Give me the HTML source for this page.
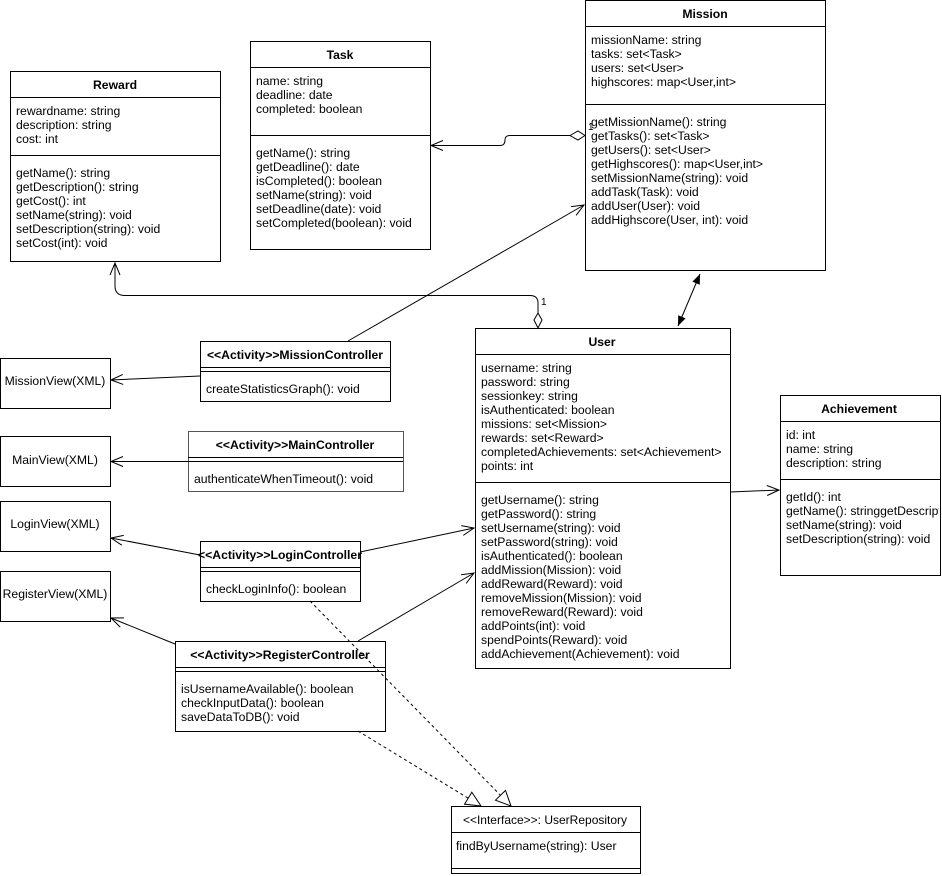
<!DOCTYPE html>
<html><head><meta charset="utf-8"><style>
html,body{margin:0;padding:0;background:#fff;}
svg{display:block;font-family:"Liberation Sans",Arial,sans-serif;font-size:12.2px;}
.b{font-weight:bold;}
</style></head><body>
<svg width="942" height="876" viewBox="0 0 942 876" xmlns="http://www.w3.org/2000/svg">
<defs>
<marker id="open" markerWidth="14" markerHeight="14" refX="13" refY="7" orient="auto" markerUnits="userSpaceOnUse"><path d="M1,2 L13,7 L1,12" fill="none" stroke="#000" stroke-width="1"/></marker>
<marker id="fill" markerWidth="12" markerHeight="12" refX="11" refY="6" orient="auto" markerUnits="userSpaceOnUse"><path d="M1,2 L11,6 L1,10 Z" fill="#000"/></marker>
<marker id="fillS" markerWidth="12" markerHeight="12" refX="1" refY="6" orient="auto" markerUnits="userSpaceOnUse"><path d="M11,2 L1,6 L11,10 Z" fill="#000"/></marker>
<marker id="tri" markerWidth="18" markerHeight="18" refX="16" refY="8" orient="auto" markerUnits="userSpaceOnUse"><path d="M1,1 L16,8 L1,15 Z" fill="#fff" stroke="#000"/></marker>
</defs>
<g fill="none" stroke="#000" stroke-width="1">
<rect x="10.5" y="71.5" width="210" height="190"/><line x1="10" y1="97.5" x2="220" y2="97.5"/><line x1="10" y1="155.5" x2="220" y2="155.5"/>
<rect x="250.5" y="41.5" width="180" height="208"/><line x1="250" y1="67.5" x2="430" y2="67.5"/><line x1="250" y1="135.5" x2="430" y2="135.5"/>
<rect x="585.5" y="0.5" width="240" height="270"/><line x1="585" y1="26.5" x2="825" y2="26.5"/><line x1="585" y1="104.5" x2="825" y2="104.5"/>
<rect x="475.5" y="328.5" width="255" height="340"/><line x1="475" y1="354.5" x2="730" y2="354.5"/><line x1="475" y1="482.5" x2="730" y2="482.5"/>
<rect x="780.5" y="395.5" width="160" height="180"/><line x1="780" y1="421.5" x2="940" y2="421.5"/><line x1="780" y1="479.5" x2="940" y2="479.5"/>
<rect x="0.5" y="358.5" width="110" height="50"/>
<rect x="0.5" y="436.5" width="110" height="50"/>
<rect x="0.5" y="501.5" width="110" height="50"/>
<rect x="0.5" y="571.5" width="110" height="50"/>
<rect x="200.5" y="341.5" width="190" height="60"/><line x1="200" y1="367.5" x2="390" y2="367.5"/><line x1="200" y1="371.5" x2="390" y2="371.5"/>
<rect x="188.5" y="431.5" width="215" height="60" stroke="#555"/><line x1="188" y1="457.5" x2="403" y2="457.5"/><line x1="188" y1="461.5" x2="403" y2="461.5"/>
<rect x="200.5" y="541.5" width="160" height="60"/><line x1="200" y1="567.5" x2="360" y2="567.5"/><line x1="200" y1="571.5" x2="360" y2="571.5"/>
<rect x="175.5" y="641.5" width="210" height="90"/><line x1="175" y1="667.5" x2="385" y2="667.5"/><line x1="175" y1="671.5" x2="385" y2="671.5"/>
<rect x="451.5" y="806.5" width="189" height="67"/><line x1="451" y1="832.5" x2="640" y2="832.5"/><line x1="451" y1="868.5" x2="640" y2="868.5"/>
<path d="M570,135.5 L510,135.5 Q505,135.5 505,140 Q505,145.5 500,145.5 L431,145.5" marker-end="url(#open)"/>
<path d="M570,135.5 L578,131 L585,135.5 L578,140 Z" fill="#fff"/>
<path d="M538,313 L538,303 Q538,295.5 530,295.5 L125,295.5 Q115,295.5 115,286 L115,263" marker-end="url(#open)"/>
<path d="M538,313 L542,320 L538,328 L534,320 Z" fill="#fff"/>
<path d="M348,341 L584,205" marker-end="url(#open)"/>
<path d="M678,326 L700,274" marker-end="url(#fill)" marker-start="url(#fillS)"/>
<path d="M200,376 L111,380" marker-end="url(#open)"/>
<path d="M188,461.5 L111,461.5" marker-end="url(#open)"/>
<path d="M200,555 L111,538" marker-end="url(#open)"/>
<path d="M360,552 L474,528" marker-end="url(#open)"/>
<path d="M175,644 L111,618" marker-end="url(#open)"/>
<path d="M358,641 L474,573" marker-end="url(#open)"/>
<path d="M730,492 L779,490" marker-end="url(#open)"/>
<path d="M310,601 L511,806" stroke-dasharray="3,3" marker-end="url(#tri)"/>
<path d="M358,731 L481,806" stroke-dasharray="3,3" marker-end="url(#tri)"/>
</g>
<g fill="#000">
<text x="588" y="130" font-size="10">1</text>
<text x="541" y="305" font-size="10">1</text>
<text x="115" y="89" text-anchor="middle" class="b">Reward</text>
<text x="16" y="115">rewardname: string</text><text x="16" y="129">description: string</text><text x="16" y="143">cost: int</text>
<text x="16" y="177">getName(): string</text><text x="16" y="191">getDescription(): string</text><text x="16" y="205">getCost(): int</text><text x="16" y="219">setName(string): void</text><text x="16" y="233">setDescription(string): void</text><text x="16" y="247">setCost(int): void</text>
<text x="340" y="59" text-anchor="middle" class="b">Task</text>
<text x="256" y="85">name: string</text><text x="256" y="99">deadline: date</text><text x="256" y="113">completed: boolean</text>
<text x="256" y="157">getName(): string</text><text x="256" y="171">getDeadline(): date</text><text x="256" y="185">isCompleted(): boolean</text><text x="256" y="199">setName(string): void</text><text x="256" y="213">setDeadline(date): void</text><text x="256" y="227">setCompleted(boolean): void</text>
<text x="705" y="18" text-anchor="middle" class="b">Mission</text>
<text x="591" y="44">missionName: string</text><text x="591" y="58">tasks: set&lt;Task&gt;</text><text x="591" y="72">users: set&lt;User&gt;</text><text x="591" y="86">highscores: map&lt;User,int&gt;</text>
<text x="591" y="126">getMissionName(): string</text><text x="591" y="140">getTasks(): set&lt;Task&gt;</text><text x="591" y="154">getUsers(): set&lt;User&gt;</text><text x="591" y="168">getHighscores(): map&lt;User,int&gt;</text><text x="591" y="182">setMissionName(string): void</text><text x="591" y="196">addTask(Task): void</text><text x="591" y="210">addUser(User): void</text><text x="591" y="224">addHighscore(User, int): void</text>
<text x="602" y="346" text-anchor="middle" class="b">User</text>
<text x="481" y="372">username: string</text><text x="481" y="386">password: string</text><text x="481" y="400">sessionkey: string</text><text x="481" y="414">isAuthenticated: boolean</text><text x="481" y="428">missions: set&lt;Mission&gt;</text><text x="481" y="442">rewards: set&lt;Reward&gt;</text><text x="481" y="456">completedAchievements: set&lt;Achievement&gt;</text><text x="481" y="470">points: int</text>
<text x="481" y="504">getUsername(): string</text><text x="481" y="518">getPassword(): string</text><text x="481" y="532">setUsername(string): void</text><text x="481" y="546">setPassword(string): void</text><text x="481" y="560">isAuthenticated(): boolean</text><text x="481" y="574">addMission(Mission): void</text><text x="481" y="588">addReward(Reward): void</text><text x="481" y="602">removeMission(Mission): void</text><text x="481" y="616">removeReward(Reward): void</text><text x="481" y="630">addPoints(int): void</text><text x="481" y="644">spendPoints(Reward): void</text><text x="481" y="658">addAchievement(Achievement): void</text>
<text x="859" y="413" text-anchor="middle" class="b">Achievement</text>
<text x="786" y="439">id: int</text><text x="786" y="453">name: string</text><text x="786" y="467">description: string</text>
<text x="786" y="501">getId(): int</text>
<svg x="786" y="500" width="153" height="20"><text x="0" y="15">getName(): stringgetDescription(): string</text></svg>
<text x="786" y="529">setName(string): void</text><text x="786" y="543">setDescription(string): void</text>
<text x="55" y="385" text-anchor="middle">MissionView(XML)</text>
<text x="55" y="464" text-anchor="middle">MainView(XML)</text>
<text x="55" y="528" text-anchor="middle">LoginView(XML)</text>
<text x="55" y="598" text-anchor="middle">RegisterView(XML)</text>
<text x="295" y="359" text-anchor="middle" class="b">&lt;&lt;Activity&gt;&gt;MissionController</text>
<text x="206" y="393">createStatisticsGraph(): void</text>
<text x="295" y="449" text-anchor="middle" class="b">&lt;&lt;Activity&gt;&gt;MainController</text>
<text x="194" y="483">authenticateWhenTimeout(): void</text>
<text x="280" y="559" text-anchor="middle" class="b">&lt;&lt;Activity&gt;&gt;LoginController</text>
<text x="206" y="593">checkLoginInfo(): boolean</text>
<text x="280" y="659" text-anchor="middle" class="b">&lt;&lt;Activity&gt;&gt;RegisterController</text>
<text x="181" y="693">isUsernameAvailable(): boolean</text><text x="181" y="707">checkInputData(): boolean</text><text x="181" y="721">saveDataToDB(): void</text>
<text x="545" y="824" text-anchor="middle" font-size="12">&lt;&lt;Interface&gt;&gt;: UserRepository</text>
<text x="456" y="850">findByUsername(string): User</text>
</g>
</svg>
</body></html>
